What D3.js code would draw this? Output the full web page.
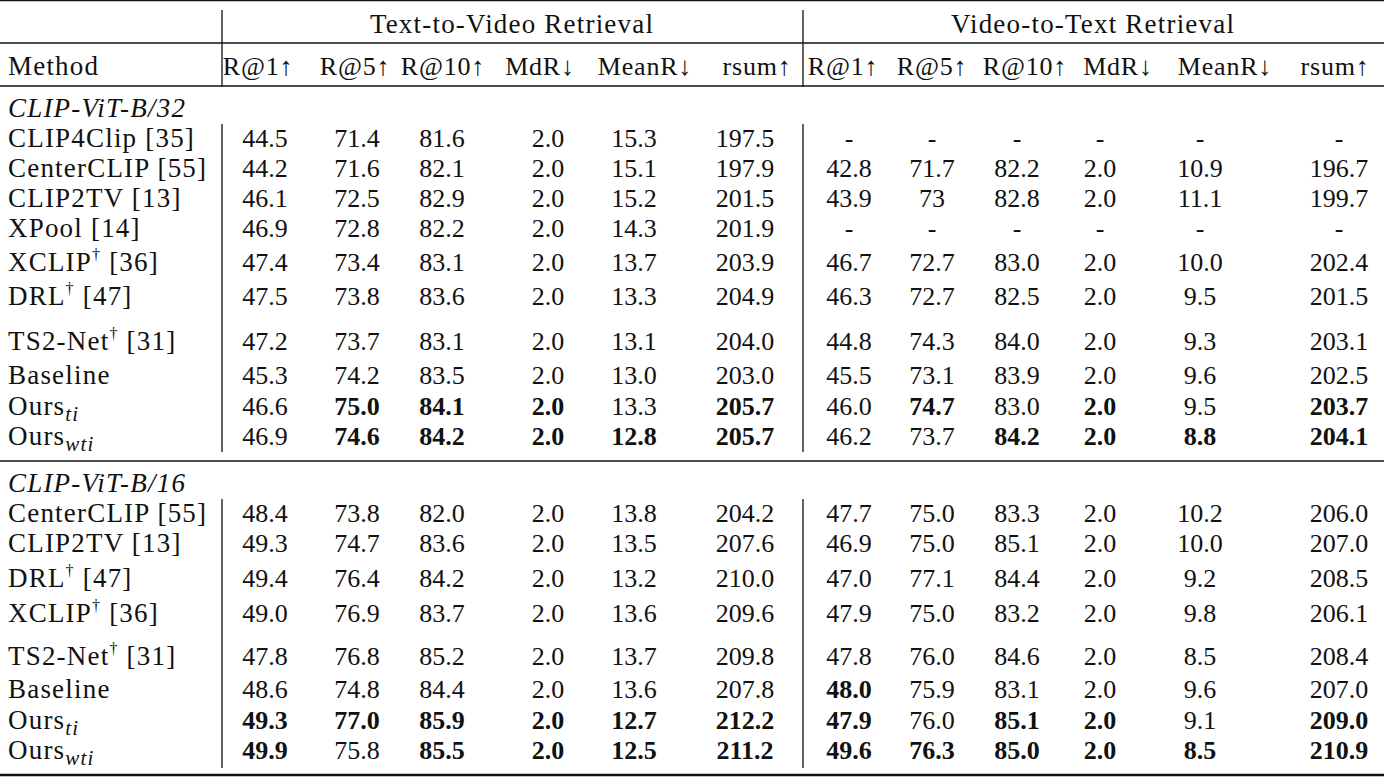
<!DOCTYPE html>
<html><head><meta charset="utf-8">
<script src="https://cdn.jsdelivr.net/npm/d3@7"></script>
<style>body{margin:0;background:#fff}</style></head>
<body><svg id="c" width="1384" height="778"></svg>
<script>
const groupTitles = ["CLIP-ViT-B/32", "CLIP-ViT-B/16"];
const metricHeaders = ["R@1↑","R@5↑","R@10↑","MdR↓","MeanR↓","rsum↑"];
const directionHeaders = ["Text-to-Video Retrieval","Video-to-Text Retrieval"];
// rows: [name, dagger, subscript, citation]
const methodsB32 = [["CLIP4Clip",0,"","[35]"],["CenterCLIP",0,"","[55]"],["CLIP2TV",0,"","[13]"],["XPool",0,"","[14]"],["XCLIP",1,"","[36]"],["DRL",1,"","[47]"],["TS2-Net",1,"","[31]"],["Baseline",0,"",""],["Ours",0,"ti",""],["Ours",0,"wti",""]];
const valuesB32 = [
 ["44.5","71.4","81.6","2.0","15.3","197.5","-","-","-","-","-","-"],
 ["44.2","71.6","82.1","2.0","15.1","197.9","42.8","71.7","82.2","2.0","10.9","196.7"],
 ["46.1","72.5","82.9","2.0","15.2","201.5","43.9","73","82.8","2.0","11.1","199.7"],
 ["46.9","72.8","82.2","2.0","14.3","201.9","-","-","-","-","-","-"],
 ["47.4","73.4","83.1","2.0","13.7","203.9","46.7","72.7","83.0","2.0","10.0","202.4"],
 ["47.5","73.8","83.6","2.0","13.3","204.9","46.3","72.7","82.5","2.0","9.5","201.5"],
 ["47.2","73.7","83.1","2.0","13.1","204.0","44.8","74.3","84.0","2.0","9.3","203.1"],
 ["45.3","74.2","83.5","2.0","13.0","203.0","45.5","73.1","83.9","2.0","9.6","202.5"],
 ["46.6","75.0","84.1","2.0","13.3","205.7","46.0","74.7","83.0","2.0","9.5","203.7"],
 ["46.9","74.6","84.2","2.0","12.8","205.7","46.2","73.7","84.2","2.0","8.8","204.1"]];
const boldB32 = [[],[],[],[],[],[],[],[],[1,2,3,5,7,9,11],[1,2,3,4,5,8,9,10,11]];
const methodsB16 = [["CenterCLIP",0,"","[55]"],["CLIP2TV",0,"","[13]"],["DRL",1,"","[47]"],["XCLIP",1,"","[36]"],["TS2-Net",1,"","[31]"],["Baseline",0,"",""],["Ours",0,"ti",""],["Ours",0,"wti",""]];
const valuesB16 = [
 ["48.4","73.8","82.0","2.0","13.8","204.2","47.7","75.0","83.3","2.0","10.2","206.0"],
 ["49.3","74.7","83.6","2.0","13.5","207.6","46.9","75.0","85.1","2.0","10.0","207.0"],
 ["49.4","76.4","84.2","2.0","13.2","210.0","47.0","77.1","84.4","2.0","9.2","208.5"],
 ["49.0","76.9","83.7","2.0","13.6","209.6","47.9","75.0","83.2","2.0","9.8","206.1"],
 ["47.8","76.8","85.2","2.0","13.7","209.8","47.8","76.0","84.6","2.0","8.5","208.4"],
 ["48.6","74.8","84.4","2.0","13.6","207.8","48.0","75.9","83.1","2.0","9.6","207.0"],
 ["49.3","77.0","85.9","2.0","12.7","212.2","47.9","76.0","85.1","2.0","9.1","209.0"],
 ["49.9","75.8","85.5","2.0","12.5","211.2","49.6","76.3","85.0","2.0","8.5","210.9"]];
const boldB16 = [[],[],[],[],[],[6],[0,1,2,3,4,5,6,8,9,11],[0,2,3,4,5,6,7,8,9,10,11]];

// layout
const FONT = "'Liberation Serif','DejaVu Serif',serif", FS = 26, LFS = 27, LS = 1.2;
const valX = [265,357,442,548,634,745, 849,932,1017,1100,1200,1339];
const hdrX = [258,355,443,540,645,757, 843,932,1025,1118,1225,1335];
const yB32 = [138,168,198,228,262,296,341,375,406,436];
const yB16 = [513,543,578,613,656,689,720,750];
const svg = d3.select("#c");
const txt = (x,y,s,anchor)=>svg.append("text").attr("x",x).attr("y",y+9).attr("text-anchor",anchor||"middle")
  .attr("font-family",FONT).attr("font-size",FS).attr("fill","#111").text(s);
const lbl = (x,y,s,anchor)=>txt(x,y,s,anchor).attr("font-size",LFS).attr("letter-spacing",LS);

// rules
const hl = [[0,2.5,2.4],[43,1.4,1],[86,1.4,1],[461,1.3,1],[775,2.5,2.4]];
svg.selectAll("line.h").data(hl).join("line").attr("x1",0).attr("x2",1384)
  .attr("y1",d=>d[0]).attr("y2",d=>d[0]).attr("stroke","#111").attr("stroke-width",d=>d[1]);
const vl = [[222,10,87],[803,10,87],[222,124,452],[803,124,452],[222,499,768],[803,499,768]];
svg.selectAll("line.v").data(vl).join("line").attr("x1",d=>d[0]).attr("x2",d=>d[0])
  .attr("y1",d=>d[1]).attr("y2",d=>d[2]).attr("stroke","#111").attr("stroke-width",1.3);

// headers
lbl(512,24,directionHeaders[0]); lbl(1093,24,directionHeaders[1]);
lbl(8,66,"Method","start");
metricHeaders.concat(metricHeaders).forEach((h,i)=>txt(hdrX[i],66,h).attr("letter-spacing",0.8));
lbl(8,108,groupTitles[0],"start").attr("font-style","italic");
lbl(8,483,groupTitles[1],"start").attr("font-style","italic");

function drawGroup(methods, values, bold, ys){
  methods.forEach((m,i)=>{
    const t = lbl(8,ys[i],"","start");
    t.append("tspan").text(m[0]);
    if(m[1]) t.append("tspan").attr("dy",-11).attr("font-size",16).text("†");
    if(m[2]) t.append("tspan").attr("dy",m[1]?11:6).attr("font-size",21).attr("font-style","italic").text(m[2]);
    if(m[3]) t.append("tspan").attr("dy",m[1]?11:(m[2]?-6:0)).text(" "+m[3]);
    values[i].forEach((v,j)=>{
      const c = txt(valX[j],ys[i],v);
      if(bold[i].includes(j)) c.attr("font-weight","bold");
    });
  });
}
drawGroup(methodsB32, valuesB32, boldB32, yB32);
drawGroup(methodsB16, valuesB16, boldB16, yB16);
</script></body></html>
